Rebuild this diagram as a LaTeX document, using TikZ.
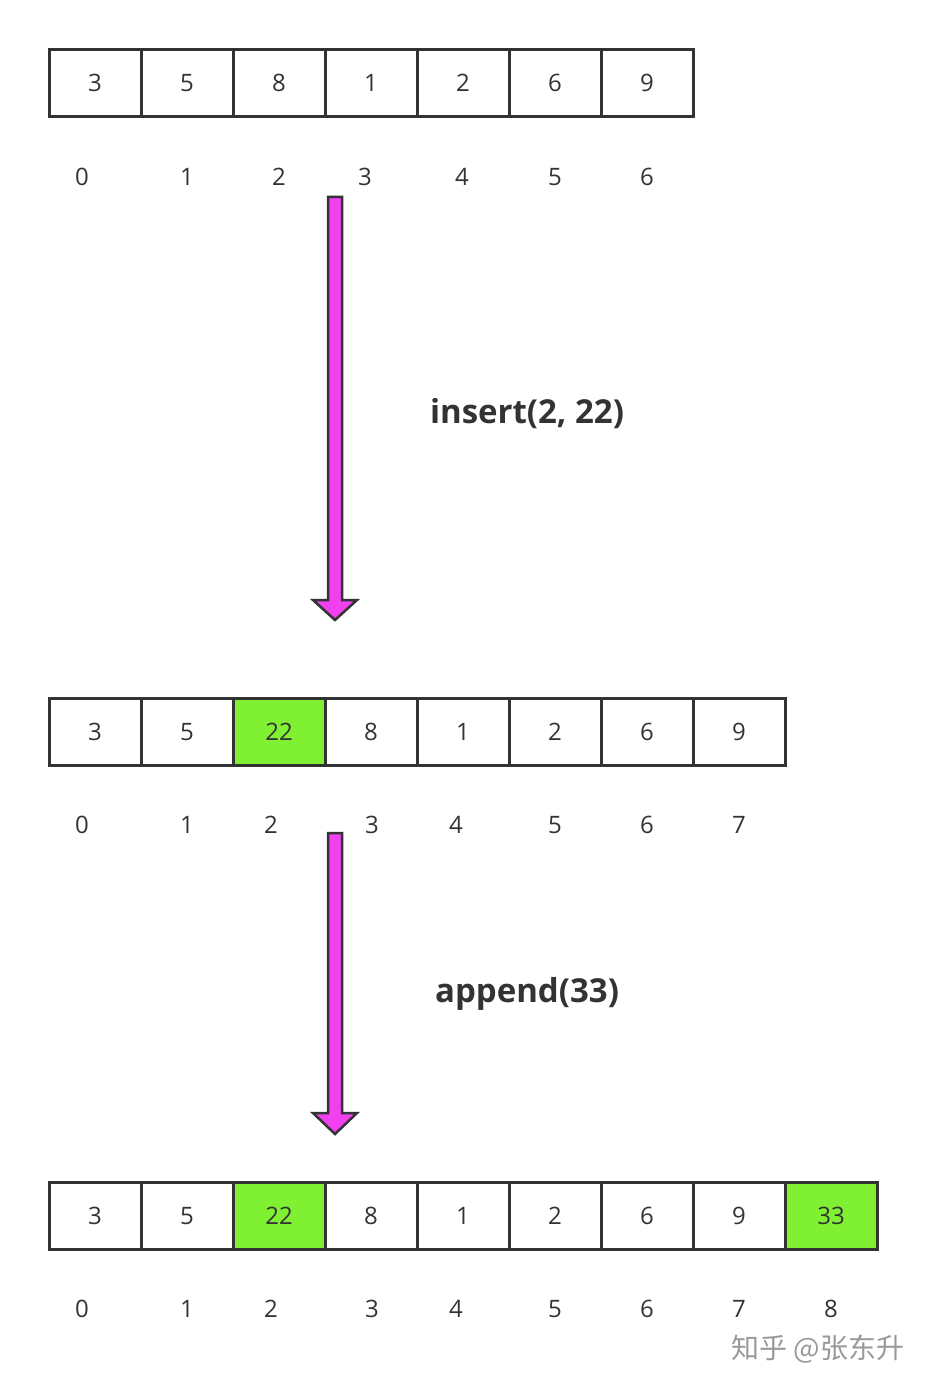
\documentclass[tikz,border=0pt]{standalone}
\usepackage{fontspec}
\setmainfont{Open Sans}
\newfontfamily\cjk{Noto Sans CJK SC}
\begin{document}
\begin{tikzpicture}[x=1pt,y=-1pt]
\definecolor{dk}{HTML}{333333}
\definecolor{gr}{HTML}{80F033}
\definecolor{mg}{HTML}{F040F0}
\tikzset{cell/.style={draw=dk,line width=3pt,minimum width=92pt,minimum height=67pt,inner sep=0pt,font=\fontsize{24}{24}\selectfont,text=dk},
 idx/.style={font=\fontsize{24}{24}\selectfont,text=dk},
 lbl/.style={font=\fontsize{33}{33}\selectfont\bfseries,text=dk},
 arr/.style={draw=dk,line width=2.5pt,fill=mg,line join=miter}}
\useasboundingbox (0,0) rectangle (928,1388);
% array 1
\foreach \v [count=\i from 0] in {3,5,8,1,2,6,9}
  \node[cell] (a\i) at (95+92*\i,83) {\v};
\foreach \v/\x [count=\i from 0] in {0/82,1/187,2/279,3/365,4/462,5/555,6/647}
  \node[idx] (ai\i) at (\x,177) {\v};
% array 2
\foreach \v [count=\i from 0] in {3,5,22,8,1,2,6,9}
  \node[cell] (b\i) at (95+92*\i,732) {\v};
\node[cell,fill=gr] at (b2) {22};
\foreach \v/\x [count=\i from 0] in {0/82,1/187,2/271,3/372,4/456,5/555,6/647,7/739}
  \node[idx] (bi\i) at (\x,825) {\v};
% array 3
\foreach \v [count=\i from 0] in {3,5,22,8,1,2,6,9,33}
  \node[cell] (c\i) at (95+92*\i,1216) {\v};
\node[cell,fill=gr] at (c2) {22};
\node[cell,fill=gr] at (c8) {33};
\foreach \v/\x [count=\i from 0] in {0/82,1/187,2/271,3/372,4/456,5/555,6/647,7/739,8/831}
  \node[idx] (ci\i) at (\x,1309) {\v};
% arrows
\draw[arr] (328,197) -- (342,197) -- (342,600) -- (357,600) -- (335,620) -- (313,600) -- (328,600) -- cycle;
\draw[arr] (328,833) -- (342,833) -- (342,1113) -- (357,1113) -- (335,1134) -- (313,1113) -- (328,1113) -- cycle;
\node[lbl] (l1) at (527,414) {insert(2, 22)};
\node[lbl] (l2) at (527,994) {append(33)};
\node[font=\fontsize{28}{28}\selectfont\cjk,text=black!40] (wm) at (818,1349) {知乎 @张东升};
\end{tikzpicture}
\end{document}
